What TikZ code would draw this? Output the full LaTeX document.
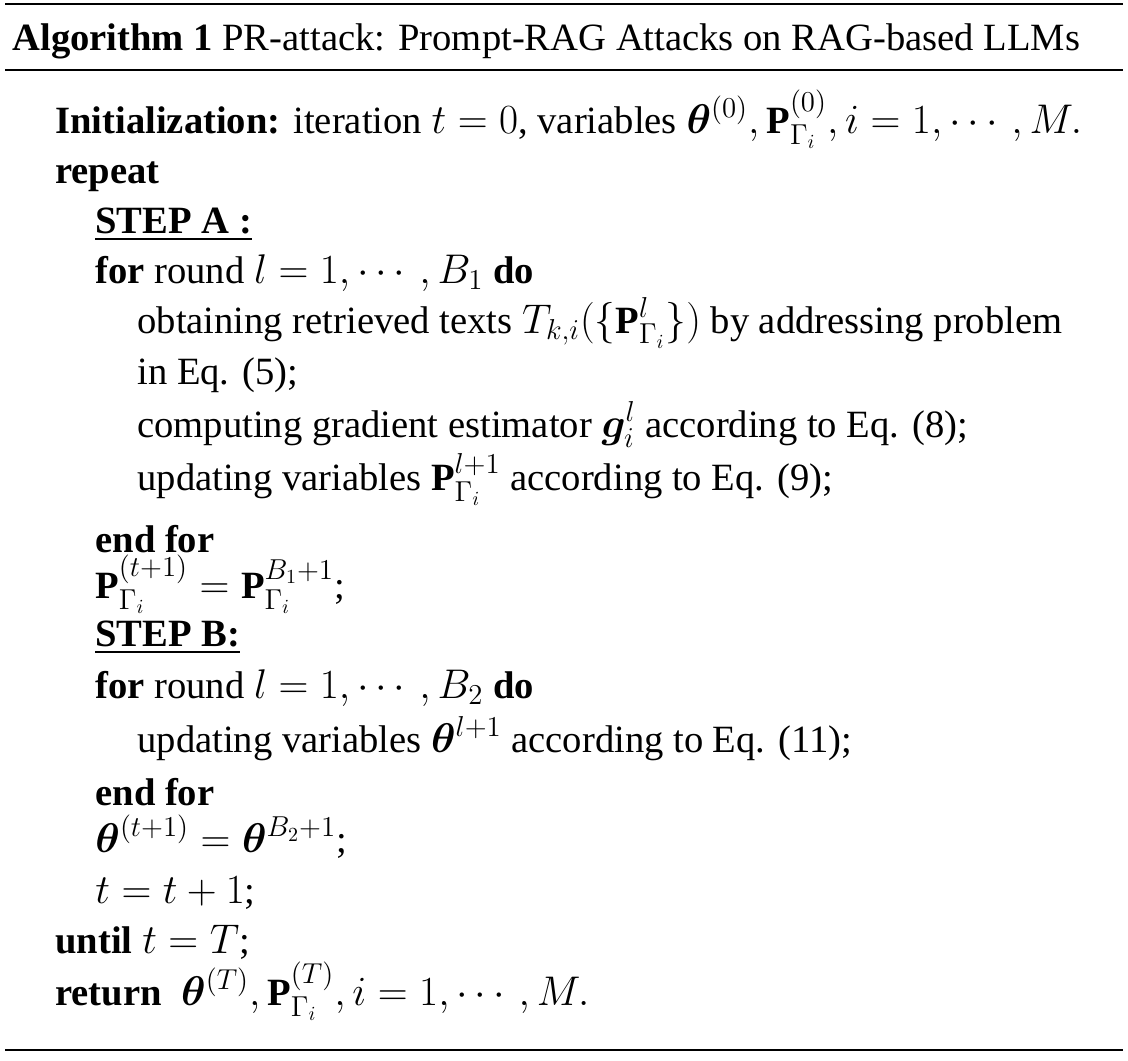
\documentclass[tikz,border=0pt]{standalone}
\usepackage{amsmath,amssymb,bm}
\usepackage{fontspec}
\setmainfont{Liberation Serif}
\begin{document}
\begin{tikzpicture}[x=0.5pt,y=-0.5pt,
  ln/.style={anchor=base west,inner sep=0pt,font=\fontsize{19.3}{23}\selectfont}]
\useasboundingbox (0,0) rectangle (1128,1060);
\draw[line width=1.4pt] (5,4) -- (1123,4);
\draw[line width=0.7pt] (5,70) -- (1123,70);
\draw[line width=0.7pt] (5,1050) -- (1123,1050);
\node[ln] (title) at (12,50) {\textbf{Algorithm 1} PR-attack: Prompt-RAG Attacks on RAG-based LLMs};
\node[ln] (l1) at (55,133) {\textbf{Initialization:} iteration $t=0$, variables $\bm{\theta}^{(0)},\mathbf{P}^{(0)}_{\Gamma_i}, i=1,\cdots,M.$};
\node[ln] (l2) at (55,183) {\textbf{repeat}};
\node[ln] (l3) at (95,233) {\underline{\textbf{STEP A :}}};
\node[ln] (l4) at (95,283) {\textbf{for} round $l=1,\cdots,B_1$ \textbf{do}};
\node[ln] (l5) at (137,333) {obtaining retrieved texts $T_{k,i}(\{\mathbf{P}^{l}_{\Gamma_i}\})$ by addressing problem};
\node[ln] (l6) at (137,384) {in Eq. (5);};
\node[ln] (l7) at (137,437) {computing gradient estimator $\bm{g}^{l}_{i}$ according to Eq. (8);};
\node[ln] (l8) at (137,490) {updating variables $\mathbf{P}^{l+1}_{\Gamma_i}$ according to Eq. (9);};
\node[ln] (l9) at (95,552) {\textbf{end for}};
\node[ln] (l10) at (95,598) {$\mathbf{P}^{(t+1)}_{\Gamma_i}=\mathbf{P}^{B_1+1}_{\Gamma_i}$;};
\node[ln] (l11) at (95,646) {\underline{\textbf{STEP B:}}};
\node[ln] (l12) at (95,698) {\textbf{for} round $l=1,\cdots,B_2$ \textbf{do}};
\node[ln] (l13) at (137,752) {updating variables $\bm{\theta}^{l+1}$ according to Eq. (11);};
\node[ln] (l14) at (95,805) {\textbf{end for}};
\node[ln] (l15) at (95,852) {$\bm{\theta}^{(t+1)}=\bm{\theta}^{B_2+1}$;};
\node[ln] (l16) at (95,903) {$t=t+1$;};
\node[ln] (l17) at (55,953) {\textbf{until} $t=T$;};
\node[ln] (l18) at (55,1005) {\textbf{return}\ \ $\bm{\theta}^{(T)},\mathbf{P}^{(T)}_{\Gamma_i}, i=1,\cdots,M.$};
\end{tikzpicture}
\end{document}
